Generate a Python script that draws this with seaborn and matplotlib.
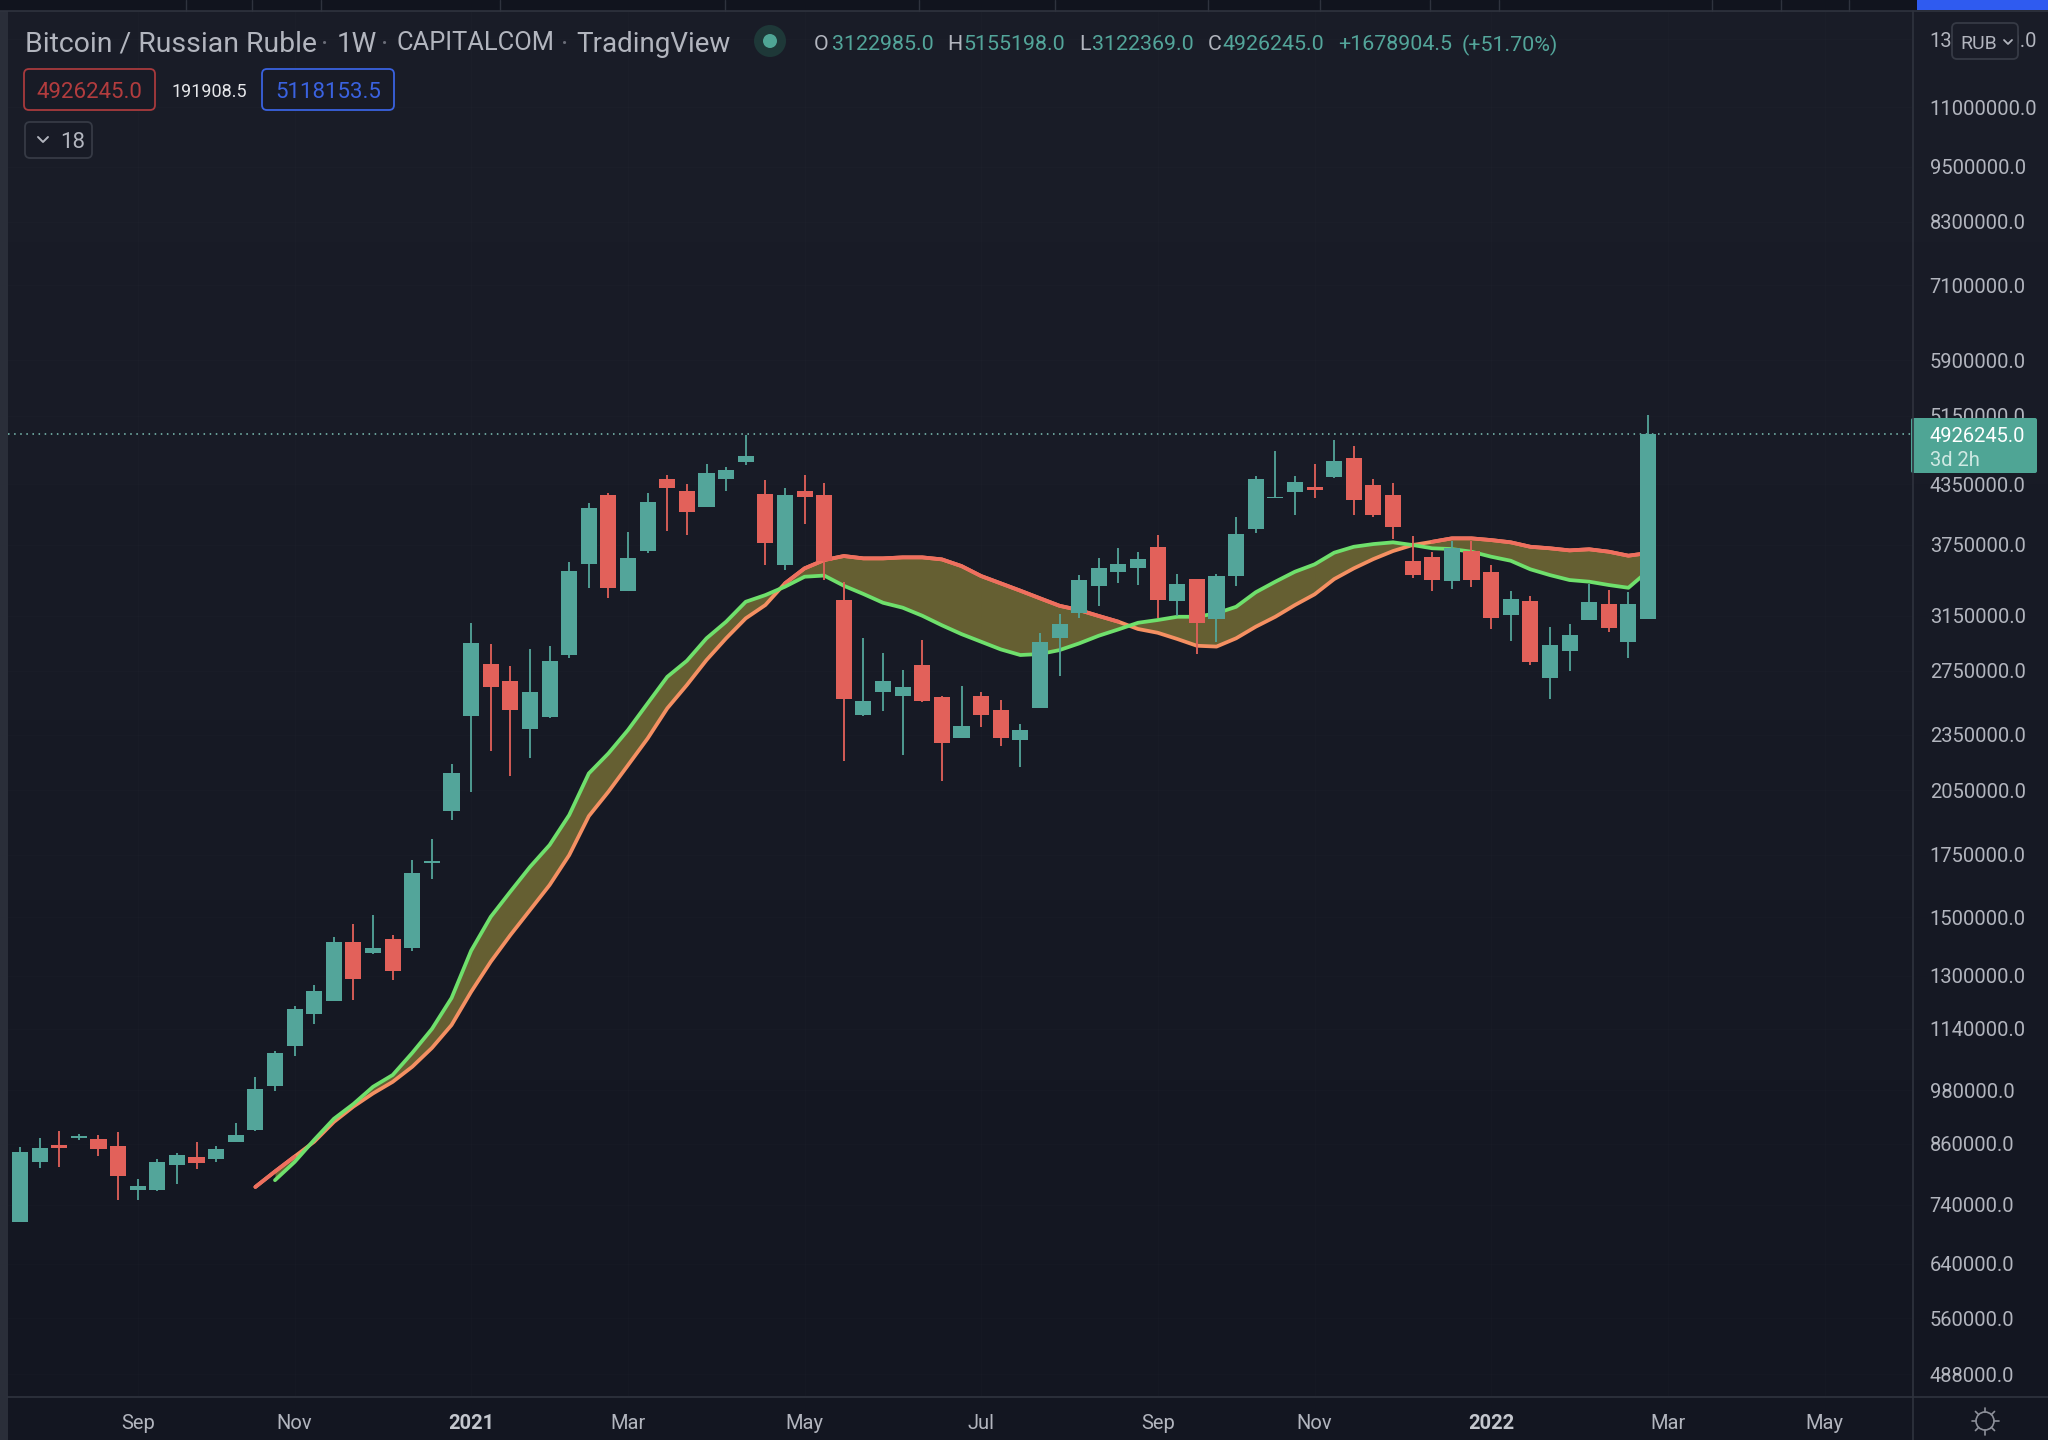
import numpy as np
import pandas as pd
import matplotlib
matplotlib.use("Agg")
import matplotlib.pyplot as plt
from matplotlib.colors import LinearSegmentedColormap
from matplotlib.patches import Circle, FancyBboxPatch, Rectangle
import seaborn as sns

# weekly candles, thousands of RUB
open_k = [710,821,858,872,869,855,768,768,816,832,829,863,890,990,1093,1182,1221,1411,
          1373,1421,1390,1713,1950,2459,2794,2680,2383,2453,2861,3576,4237,3344,3695,4410,4279,4117,
          4410,4599,4251,3567,4279,4234,3273,2467,2612,2587,2787,2577,2333,2583,2496,2318,2512,2981,
          3168,3388,3506,3538,3726,3265,3446,3126,3472,3894,4206,4272,4318,4432,4637,4346,4234,3600,
          3638,3432,3695,3504,3152,3265,2704,2887,3118,3243,2950,3123]
high_k = [852,872,888,880,878,885,788,829,840,863,855,905,1013,1080,1207,1269,1429,1474,
          1510,1435,1727,1817,2185,3093,2935,2785,2901,2923,3591,4158,4261,3871,4255,4447,4350,4576,
          4536,4907,4393,4307,4451,4364,3421,2981,2873,2755,2966,2587,2649,2610,2561,2411,3020,3160,
          3483,3629,3717,3683,3840,3489,3446,3486,4011,4440,4718,4440,4576,4851,4780,4410,4364,3831,
          3680,3781,3781,3564,3344,3305,3065,3083,3404,3354,3340,5155]
low_k = [710,809,812,868,834,749,749,766,778,807,822,863,886,979,1067,1155,1221,1224,
         1370,1286,1382,1649,1904,2043,2258,2125,2221,2449,2836,3373,3287,3344,3671,3875,3840,4117,
         4282,4561,3567,3521,3948,3438,2205,2461,2491,2234,2545,2099,2329,2395,2287,2172,2512,2717,
         3129,3227,3410,3393,3131,3149,2866,2952,3388,3859,4206,4037,4206,4418,4037,4017,3805,3452,
         3344,3360,3382,3045,2961,2790,2566,2751,3118,3028,2840,3122]
close_k = [842,850,851,876,849,795,774,821,836,819,849,878,983,1075,1197,1252,1411,1289,
           1390,1315,1674,1723,2139,2942,2645,2496,2610,2817,3515,4107,3373,3629,4162,4307,4064,4469,
           4509,4664,3765,4234,4216,3605,2566,2553,2680,2645,2555,2304,2403,2469,2333,2378,2954,3085,
           3438,3544,3576,3623,3273,3402,3093,3474,3847,4404,4219,4371,4289,4607,4188,4037,3916,3483,
           3438,3722,3438,3131,3279,2810,2928,3005,3257,3057,3241,4926]

# moving averages, they begin at weeks 13 and 12
fast_k = [786,822,868,914,948,989,1018,1075,1140,1230,1382,1502,1598,1698,1792,1929,2137,2245,
          2378,2539,2710,2819,2979,3103,3259,3313,3382,3466,3476,3390,3322,3251,3212,3149,3076,3010,
          2954,2899,2859,2866,2894,2942,2998,3045,3095,3116,3141,3141,3168,3219,3336,3424,3509,3573,
          3677,3731,3756,3772,3747,3717,3710,3686,3641,3605,3530,3480,3438,3424,3396,3373,3515]
slow_k = [773,803,833,864,907,942,973,1001,1039,1088,1151,1249,1345,1436,1527,1624,1748,1924,
          2043,2181,2329,2508,2656,2824,2979,3129,3233,3410,3538,3611,3647,3626,3626,3635,3635,3617,
          3558,3472,3410,3349,3287,3227,3193,3147,3103,3048,3020,2974,2925,2919,2979,3065,3141,3233,
          3319,3446,3538,3620,3692,3747,3777,3809,3809,3793,3772,3731,3717,3698,3708,3686,3650,3674]

price_ticks = [13000000,11000000,9500000,8300000,7100000,5900000,5150000,4350000,3750000,3150000,
               2750000,2350000,2050000,1750000,1500000,1300000,1140000,980000,860000,740000,640000,
               560000,488000]
month_pos = [6,14,23,31,40,49,58,66,75,84,92]
month_labels = ["Sep","Nov","2021","Mar","May","Jul","Sep","Nov","2022","Mar","May"]

UP = "#53a59a"
DOWN = "#e2615a"
GREEN = "#6fe06c"
ORANGE = "#f59062"
CORAL = "#ef6f5f"
TEXT = "#b2b5be"
FRAME = "#2f333e"
FONT = "Roboto"

W, H = 2048, 1440
df = pd.DataFrame({"week": np.arange(len(open_k)), "o": open_k, "h": high_k, "l": low_k, "c": close_k})
df[["o", "h", "l", "c"]] *= 1000
df["up"] = df["c"] >= df["o"]

ma = pd.DataFrame({"week": np.arange(12, 84), "slow": np.array(slow_k) * 1000})
ma["fast"] = [np.nan] + [v * 1000 for v in fast_k]

sns.set_theme(style="dark", rc={"axes.edgecolor": FRAME})
plt.rcParams["font.family"] = [FONT, "DejaVu Sans"]

fig = plt.figure(figsize=(W / 100, H / 100), dpi=100)

# background gets a bit darker toward the bottom
bg = fig.add_axes([0, 0, 1, 1], zorder=0)
bg_cmap = LinearSegmentedColormap.from_list("bg", ["#1a1d28", "#171a25", "#131621"])
bg.imshow(np.linspace(0, 1, 256).reshape(-1, 1), cmap=bg_cmap, aspect="auto", extent=[0, W, H, 0])
bg.set_axis_off()

# price pane, 8..1913 px across and 11..1397 px down
ax = fig.add_axes([8 / W, (H - 1397) / H, (1913 - 8) / W, (1397 - 11) / H], zorder=1)
ax.patch.set_alpha(0)
ax.set_yscale("log")
ax.set_xlim(-0.612, 96.51)
ax.set_ylim(461200, 13930000)
ax.grid(True, color="#ffffff", alpha=0.012, linewidth=1)

both = ma.dropna()
ax.fill_between(both["week"], both["fast"], both["slow"], color="#655f32", linewidth=0, zorder=1)

# slow line is more red where it sits on top
sns.lineplot(data=ma, x="week", y="slow", color=ORANGE, linewidth=2.7, estimator=None, ax=ax, zorder=2)
above = ma[(ma["slow"] > ma["fast"]) | ma["fast"].isna()].copy()
above["run"] = (above["week"].diff() != 1).cumsum()
sns.lineplot(data=above, x="week", y="slow", units="run", color=CORAL, linewidth=2.7, estimator=None, ax=ax, zorder=2.1)
sns.lineplot(data=both, x="week", y="fast", color=GREEN, linewidth=2.7, estimator=None, ax=ax, zorder=2.2)

colors = np.where(df["up"], UP, DOWN)
ax.vlines(df["week"], df["l"], df["h"], colors=colors, linewidth=1.3, zorder=3)
body_low = df[["o", "c"]].min(axis=1)
body_high = df[["o", "c"]].max(axis=1)
ax.bar(df["week"], body_high - body_low, bottom=body_low, width=0.82, color=colors, linewidth=0, zorder=3.1)

ax.axhline(close_k[-1] * 1000, color="#7fc4b8", linestyle=(0, (1, 3)), linewidth=1.1, zorder=2.5)

ax.set_xlabel("")
ax.set_ylabel("")
ax.yaxis.tick_right()
ax.set_yticks(price_ticks, labels=[f"{v}.0" for v in price_ticks])
ax.minorticks_off()
ax.set_xticks(month_pos, labels=month_labels)
ax.tick_params(axis="y", length=0, pad=12, labelsize=14.5, labelcolor=TEXT)
ax.tick_params(axis="x", length=0, pad=12, labelsize=14.5, labelcolor=TEXT)
for lab in ax.get_xticklabels():
    if lab.get_text().isdigit():
        lab.set_fontweight("bold")
        lab.set_color("#c4c7ce")
for side in ["top", "left", "right", "bottom"]:
    ax.spines[side].set_visible(False)

# everything around the pane, in pixels
ov = fig.add_axes([0, 0, 1, 1], zorder=5)
ov.set_xlim(0, W)
ov.set_ylim(H, 0)
ov.set_axis_off()
ov.patch.set_alpha(0)

ov.add_patch(Rectangle((0, 0), W, 11, color="#11141e", linewidth=0))
ov.add_patch(Rectangle((1917, 0), W - 1917, 10, color="#2f5bf0", linewidth=0))
ov.add_patch(Rectangle((0, 11), 8, H - 11, color="#2a2e39", linewidth=0))
for sx in [186, 252, 321, 500, 725, 919, 1055, 1208, 1320, 1430, 1499, 1712, 1781, 1849]:
    ov.plot([sx, sx], [0, 11], color=FRAME, linewidth=1)
ov.plot([0, W], [11, 11], color=FRAME, linewidth=1.2)
ov.plot([8, W], [1397, 1397], color=FRAME, linewidth=1.2)
ov.plot([1913, 1913], [11, H], color=FRAME, linewidth=1.2)


def label(x, y, s, color=TEXT, size=14.5, ha="left"):
    ov.text(x, y, s, color=color, fontsize=size, ha=ha, va="center_baseline")


def badge(x0, y0, x1, y1, edge, face="#181b26"):
    ov.add_patch(FancyBboxPatch((x0 + 4, y0 + 4), x1 - x0 - 8, y1 - y0 - 8, boxstyle="round,pad=4,rounding_size=5",
                                edgecolor=edge, facecolor=face, linewidth=1.3))


# title row
label(25, 41, "Bitcoin / Russian Ruble", size=20.4)
label(325, 41, "·", color="#6a6d78", size=20, ha="center")
label(337, 41, "1W", size=20)
label(385, 41, "·", color="#6a6d78", size=20, ha="center")
label(396, 41, "CAPITALCOM", size=18.4)
label(565, 41, "·", color="#6a6d78", size=20, ha="center")
label(576, 41, "TradingView", size=20)
ov.add_patch(Circle((770, 41), 16, color="#1e3838", linewidth=0))
ov.add_patch(Circle((770, 41), 7, color="#4fa595", linewidth=0))

# OHLC readout
for x, letter, x2, num in [(814, "O", 832, "3122985.0"), (947, "H", 963, "5155198.0"),
                           (1079, "L", 1092, "3122369.0"), (1208, "C", 1222, "4926245.0")]:
    label(x, 43, letter, size=15.4)
    label(x2, 43, num, color=UP, size=15.4)
label(1338, 43, "+1678904.5", color=UP, size=15.4)
label(1462, 43, "(+51.70%)", color=UP, size=15.4)

# order buttons
badge(24, 69, 155, 110, "#a83a3d")
label(89, 90, "4926245.0", color="#b23c3e", size=16, ha="center")
label(209, 90, "191908.5", color="#e6e7ea", size=13, ha="center")
badge(262, 69, 394, 110, "#3a62e0")
label(328, 90, "5118153.5", color="#3a62e0", size=16, ha="center")
badge(25, 122, 92, 158, "#363a45")
ov.plot([38, 43, 48], [137, 142, 137], color=TEXT, linewidth=1.4)
label(60, 140, "18", size=16)

# currency button covers the top tick
badge(1952, 23, 2018, 59, "#363a45", face="#1a1d28")
label(1960, 42, "RUB", size=14)
ov.plot([2004, 2008, 2012], [40, 44, 40], color=TEXT, linewidth=1.3)

# last price tag
ov.add_patch(FancyBboxPatch((1913, 420), 122, 51, boxstyle="round,pad=2,rounding_size=2", facecolor="#4fa595",
                            edgecolor="none"))
label(1930, 434, "4926245.0", color="#ffffff")
label(1930, 459, "3d 2h", color="#cfe9e3")

# settings sun icon
ov.add_patch(Circle((1985, 1421), 9, fill=False, edgecolor="#8d909a", linewidth=1.2))
for ang in np.deg2rad(np.arange(0, 360, 45)):
    ov.plot([1985 + 9 * np.cos(ang), 1985 + 13.5 * np.cos(ang)],
            [1421 + 9 * np.sin(ang), 1421 + 13.5 * np.sin(ang)], color="#8d909a", linewidth=1.2)

fig.savefig("out.png", dpi=100, facecolor="#141722")
